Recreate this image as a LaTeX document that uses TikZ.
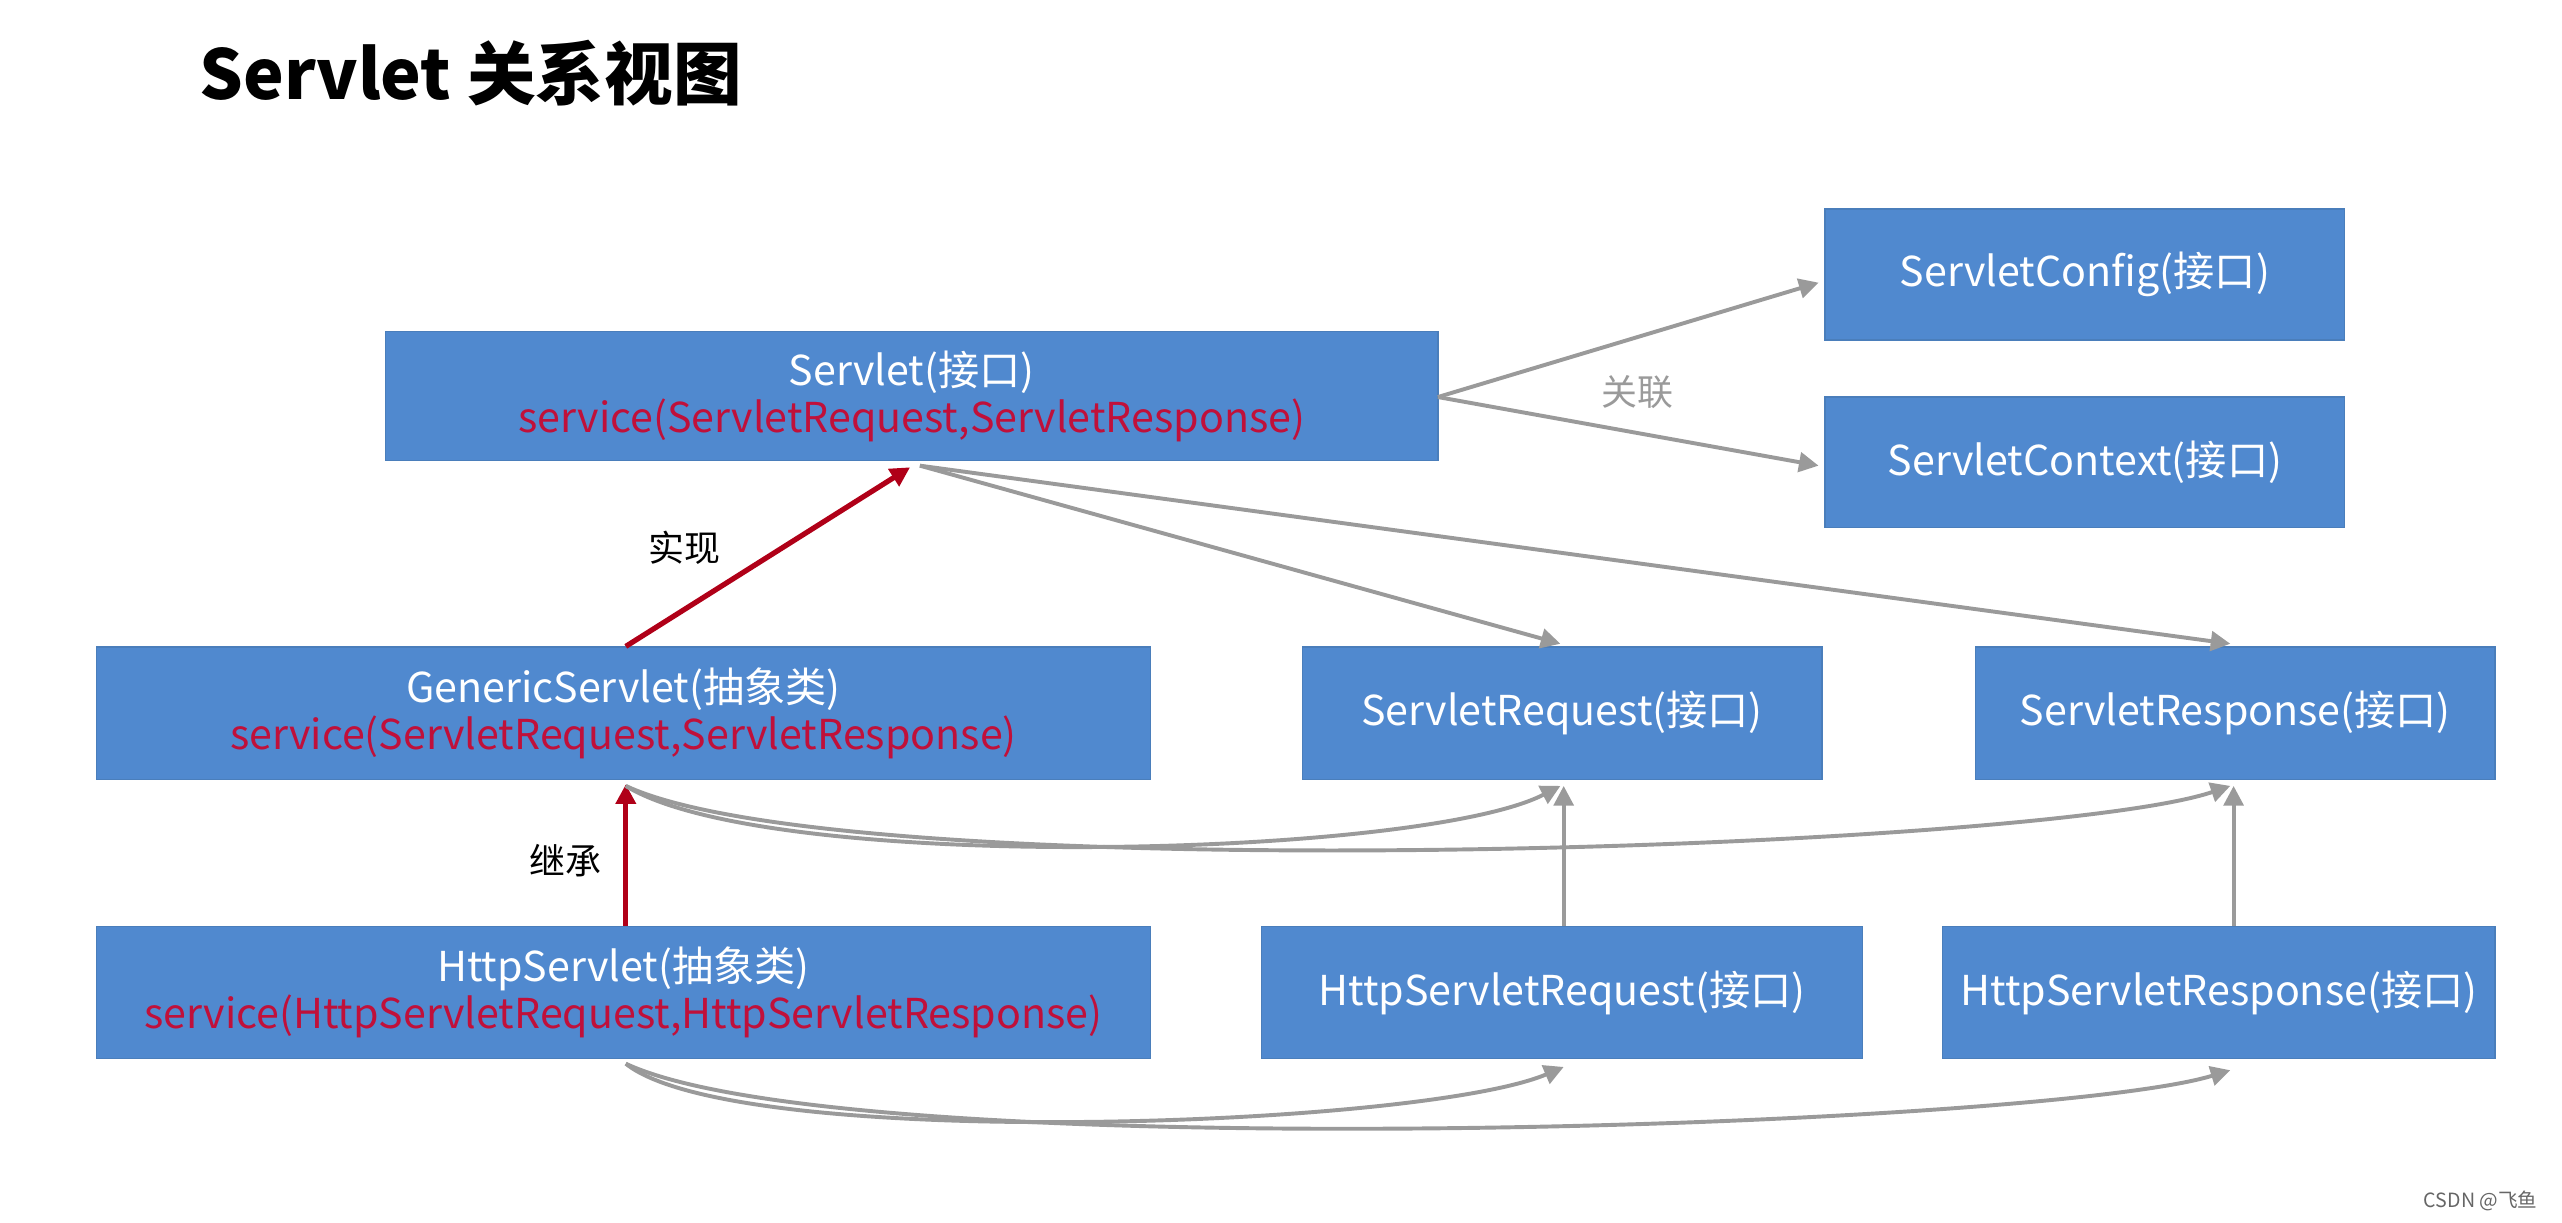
\documentclass[tikz,border=0pt]{standalone}
\usepackage{fontspec}
\setmainfont{Noto Sans CJK SC}
\usetikzlibrary{arrows.meta}
\definecolor{boxblue}{HTML}{5089CF}
\definecolor{boxedge}{HTML}{4A7EBB}
\definecolor{redtxt}{HTML}{C0103A}
\definecolor{arrgray}{HTML}{9A9A9A}
\definecolor{redarr}{HTML}{B00018}
\tikzset{
  cls/.style={draw=boxedge,fill=boxblue,text=white,font=\fontsize{12.6}{14.5}\selectfont,align=center,inner sep=0pt},
  gar/.style={draw=arrgray,line width=1.2pt,-{Triangle[length=6pt,width=6pt]}},
  rar/.style={draw=redarr,line width=1.6pt,-{Triangle[length=6pt,width=6pt]}},
  lbl/.style={font=\fontsize{11}{13}\selectfont}
}
\begin{document}
\begin{tikzpicture}[x=0.5pt,y=-0.5pt]
\useasboundingbox (0,0) rectangle (1568,748);
\node[anchor=west,font=\bfseries\fontsize{21}{24}\selectfont] (title) at (115,45) {Servlet 关系视图};
\newcommand{\bx}[6]{\node[cls,minimum width=#4*0.5pt-#2*0.5pt,minimum height=#5*0.5pt-#3*0.5pt] (#1) at ({(#2+#4)/2},{(#3+#5)/2}) {#6};}
\bx{srv}{236}{203}{880}{282}{Servlet(接口)\\\textcolor{redtxt}{service(ServletRequest,ServletResponse)}}
\bx{cfg}{1117}{128}{1435}{208}{ServletConfig(接口)}
\bx{ctx}{1117}{243}{1435}{323}{ServletContext(接口)}
\bx{gen}{59}{396}{704}{477}{GenericServlet(抽象类)\\\textcolor{redtxt}{service(ServletRequest,ServletResponse)}}
\bx{req}{797}{396}{1115}{477}{ServletRequest(接口)}
\bx{rsp}{1209}{396}{1527}{477}{ServletResponse(接口)}
\bx{http}{59}{567}{704}{648}{HttpServlet(抽象类)\\\textcolor{redtxt}{service(HttpServletRequest,HttpServletResponse)}}
\bx{hreq}{772}{567}{1140}{648}{HttpServletRequest(接口)}
\bx{hrsp}{1189}{567}{1527}{648}{HttpServletResponse(接口)}
% associations
\coordinate (sr) at (880,243);
\draw[gar] (sr) -- (1113,173);
\draw[gar] (sr) -- (1113,285);
\node[lbl,text=arrgray] (gl) at (1002,240) {关联};
\coordinate (sb) at (563,285);
\draw[gar] (sb) -- (955,394);
\draw[gar] (sb) -- (1365,394);
% red
\draw[rar] (gen.north -| 383,0) -- (557,286);
\node[lbl] (impl) at (419,335) {实现};
\draw[rar] (http.north -| 383,0) -- (383,480);
\node[lbl] (inh) at (346,527) {继承};
% curves
\coordinate (gb) at (383,481);
\draw[gar] (gb) .. controls (470,535) and (870,525) .. (955,481);
\draw[gar] (gb) .. controls (520,545) and (1250,520) .. (1365,481);
\draw[gar] (hreq.north -| 957,0) -- (957,481);
\draw[gar] (hrsp.north -| 1367,0) -- (1367,481);
\coordinate (hb) at (383,651);
\draw[gar] (hb) .. controls (450,705) and (870,690) .. (957,653);
\draw[gar] (hb) .. controls (520,715) and (1250,690) .. (1365,655);
\node[anchor=east,font=\fontsize{6}{7}\selectfont,text=gray!80!black] (wm) at (1560,735) {CSDN @飞鱼};
\end{tikzpicture}
\end{document}
